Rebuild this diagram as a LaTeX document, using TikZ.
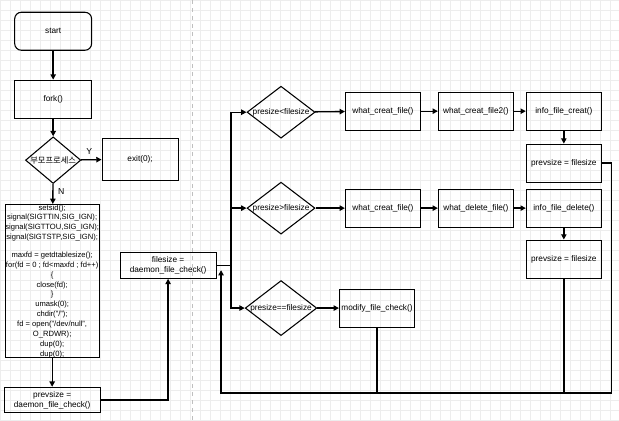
\documentclass[tikz,border=0pt]{standalone}
\usepackage{fontspec}
\setmainfont{Liberation Sans}
\newfontfamily\kor{Noto Sans CJK KR}
\usetikzlibrary{shapes.geometric,arrows.meta}
\begin{document}
\begin{tikzpicture}[x=0.75pt,y=-0.75pt,
  every node/.style={font=\fontsize{6.2}{7.6}\selectfont,align=center},
  box/.style={draw,line width=0.8pt,minimum width=56.25pt,minimum height=28.5pt,inner sep=1pt},
  dia/.style={draw,line width=0.8pt,diamond,aspect=1.3,minimum width=51pt,minimum height=39pt,inner sep=0pt},
  ln/.style={line width=1pt},
  ar/.style={line width=1pt,-{Triangle[length=4pt,width=4pt]}}]
\fill[white] (0,0) rectangle (619,420);
\foreach \i in {0,10,...,619} \draw[black!7,line width=0.3pt] (\i,0) -- (\i,420);
\foreach \j in {0,10,...,420} \draw[black!7,line width=0.3pt] (0,\j) -- (619,\j);
\draw[black!25,dashed,line width=0.4pt] (192,0) -- (192,420);
\useasboundingbox (0,0) rectangle (619,420);

\node[box,rounded corners=5pt,minimum width=57.75pt] (start) at (53,31) {start};
\node[box,minimum width=57.75pt] (fork) at (53,99) {fork()};
\node[dia,minimum width=39pt,minimum height=35pt] (d0) at (53,160) {\kor 부모프로세스};
\node[box,minimum width=57pt,minimum height=31.5pt] (exit) at (140,159) {exit(0);};
\node[box,minimum width=70.5pt,minimum height=113pt,font=\fontsize{5.7}{7.4}\selectfont,inner sep=0pt] (init) at (52,281) {setsid();\\signal(SIGTTIN,SIG\_IGN);\\signal(SIGTTOU,SIG\_IGN);\\signal(SIGTSTP,SIG\_IGN);\\[6pt]maxfd = getdtablesize();\\for(fd = 0 ; fd<maxfd ; fd++)\\\{\\close(fd);\\\}\\umask(0);\\chdir("/");\\fd = open("/dev/null",\\O\_RDWR);\\dup(0);\\dup(0);};
\node[box,minimum width=72pt,minimum height=19pt] (prev) at (52,400) {prevsize =\\daemon\_file\_check()};
\node[box,minimum width=72pt,minimum height=19pt] (fs) at (168,265.5) {filesize =\\daemon\_file\_check()};

\node[dia] (d1) at (281,112) {presize<filesize};
\node[dia] (d2) at (281,208) {presize>filesize};
\node[dia] (d3) at (281,308) {presize==filesize};
\node[box] (c1) at (383,111) {what\_creat\_file()};
\node[box] (c2) at (476,111) {what\_creat\_file2()};
\node[box] (c3) at (564,111) {info\_file\_creat()};
\node[box] (p1) at (564,163) {prevsize = filesize};
\node[box] (e1) at (383,208) {what\_creat\_file()};
\node[box] (e2) at (476,208) {what\_delete\_file()};
\node[box] (e3) at (564,208) {info\_file\_delete()};
\node[box] (p2) at (564,259) {prevsize = filesize};
\node[box] (m) at (377,308) {modify\_file\_check()};

\draw[ar] (start) -- (fork);
\draw[ar] (fork) -- (d0);
\draw[ar] (d0) -- node[above,pos=0.4,font=\fontsize{6.5}{8}\selectfont]{Y} (exit);
\draw[ar] (d0) -- node[right,pos=0.4,font=\fontsize{6.5}{8}\selectfont]{N} (init);
\draw[ar] (init) -- (prev);
\draw[ar] (prev.east) -| (fs.south);
\coordinate (br) at (231,265.5);
\draw[ln] (fs.east) -- (br);
\draw[ar] (br) |- (d1.west);
\draw[ar] (br) |- (d3.west);
\draw[ar] (231,208) -- (d2.west);
\draw[ar] (d1) -- (c1); \draw[ar] (c1) -- (c2); \draw[ar] (c2) -- (c3); \draw[ar] (c3) -- (p1);
\draw[ar] (d2) -- (e1); \draw[ar] (e1) -- (e2); \draw[ar] (e2) -- (e3); \draw[ar] (e3) -- (p2);
\draw[ar] (d3) -- (m);
\coordinate (bot) at (221,393);
\coordinate (tip) at (221,270);
\draw[ar] (p1.east) -- (612,163) |- (bot) -- (tip);
\draw[ln] (m.south) -- (m.south |- bot);
\draw[ln] (p2.south) -- (p2.south |- bot);
\end{tikzpicture}
\end{document}
